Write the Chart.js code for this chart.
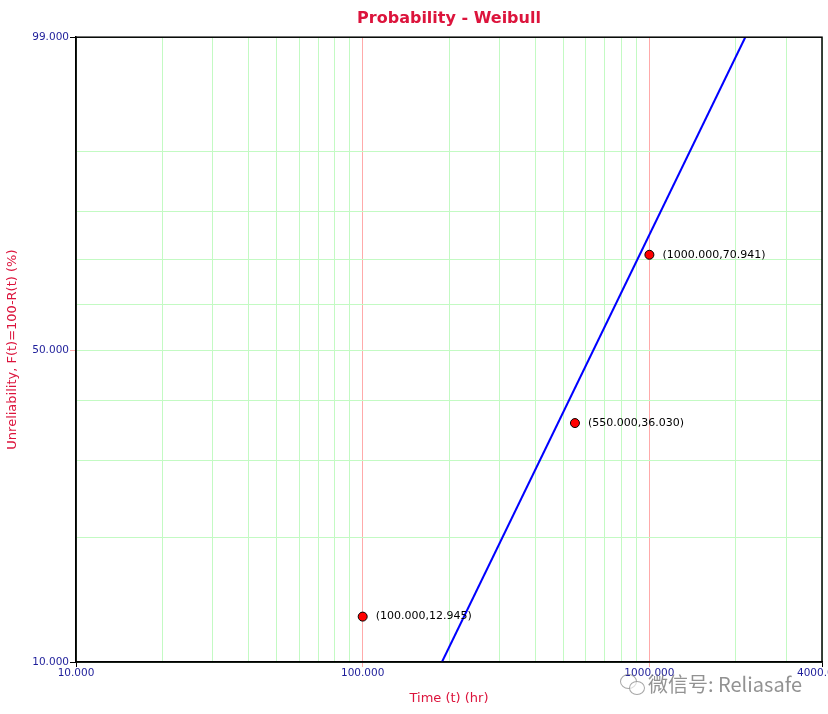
<!DOCTYPE html>
<html>
<head>
<meta charset="utf-8">
<script src="https://cdn.jsdelivr.net/npm/chart.js@4.4.1/dist/chart.umd.min.js"></script>
<style>
  html, body { margin: 0; padding: 0; background: #ffffff; }
  #wrap { position: relative; width: 828px; height: 714px; }
  canvas { display: block; }
  #wm { position: absolute; left: 620px; top: 669px; font-family: "Noto Sans CJK SC", sans-serif; font-size: 20px; color: rgba(110,110,110,0.75); white-space: nowrap; }
  #wm .ic { display: inline-block; position: relative; width: 26px; height: 22px; vertical-align: -4px; margin-right: 2px; }
  #wm .c1 { position: absolute; left: 0; top: 0; width: 15px; height: 13px; border: 1.5px solid rgba(130,130,130,0.7); border-radius: 50%; }
  #wm .c2 { position: absolute; left: 9px; top: 7px; width: 14px; height: 12px; border: 1.5px solid rgba(130,130,130,0.7); border-radius: 50%; background: rgba(255,255,255,0.6); }
</style>
</head>
<body>
<div id="wrap">
  <canvas id="c" width="828" height="714"></canvas>
  <div id="wm"><span class="ic"><span class="c1"></span><span class="c2"></span></span>微信号: Reliasafe</div>
</div>
<script>
// ---- data ----
const times = [100, 550, 1000];                 // hr
const unreliability = [12.945, 36.030, 70.941]; // %
const fitTimes = [189, 2160];                   // fitted line end points (hr)
const fitUnreliability = [10, 99];              // fitted line end points (%)
const xGridTicks = [10, 20, 30, 40, 50, 60, 70, 80, 90, 100, 200, 300, 400, 500, 600, 700, 800, 900, 1000, 2000, 3000, 4000];
const xLabeledTicks = [10, 100, 1000, 4000];
const xMajorGrid = [100, 1000];
const yGridTicks = [10, 20, 30, 40, 50, 60, 70, 80, 90, 99];
const yLabeledTicks = [10, 50, 99];

// ---- Weibull probability scale ----
const wt = F => Math.log(-Math.log(1 - F / 100));
class WeibullScale extends Chart.Scale {
  static id = 'weibull';
  static defaults = {};
  parse(raw) { return +raw; }
  determineDataLimits() {
    this.min = this.options.min;
    this.max = this.options.max;
  }
  buildTicks() { return yGridTicks.map(v => ({ value: v })); }
  getLabelForValue(v) { return v.toFixed(3); }
  configure() {
    super.configure();
    this._wStart = wt(this.min);
    this._wRange = wt(this.max) - wt(this.min);
  }
  getPixelForValue(v) {
    return this.getPixelForDecimal((wt(v) - this._wStart) / this._wRange);
  }
  getValueForPixel(p) {
    const t = this._wStart + this.getDecimalForPixel(p) * this._wRange;
    return 100 * (1 - Math.exp(-Math.exp(t)));
  }
}
Chart.register(WeibullScale);

const GREEN = 'rgba(195,250,195,1)';
const PINK = 'rgba(255,170,170,1)';
const TICKBLUE = '#1e1e9a';
const CRIMSON = '#dc143c';

const frame = {
  id: 'frame',
  afterDatasetsDraw(chart) {
    const { ctx, chartArea: a } = chart;
    ctx.save();
    ctx.strokeStyle = '#000';
    ctx.lineWidth = 1.5;
    ctx.strokeRect(a.left, a.top, a.right - a.left, a.bottom - a.top);
    ctx.restore();
  }
};

const pointLabels = {
  id: 'pointLabels',
  afterDatasetsDraw(chart) {
    const meta = chart.getDatasetMeta(1);
    const { ctx } = chart;
    ctx.save();
    ctx.font = '11px "DejaVu Sans"';
    ctx.fillStyle = '#000';
    ctx.textAlign = 'left';
    ctx.textBaseline = 'middle';
    meta.data.forEach((el, i) => {
      ctx.fillText('(' + times[i].toFixed(3) + ',' + unreliability[i].toFixed(3) + ')', el.x + 13, el.y);
    });
    ctx.restore();
  }
};

new Chart(document.getElementById('c'), {
  data: {
    datasets: [
      {
        type: 'line',
        data: fitTimes.map((t, i) => ({ x: t, y: fitUnreliability[i] })),
        borderColor: '#0000ff',
        borderWidth: 2,
        pointRadius: 0,
        fill: false,
        order: 2
      },
      {
        type: 'scatter',
        data: times.map((t, i) => ({ x: t, y: unreliability[i] })),
        backgroundColor: '#ff0000',
        borderColor: '#000000',
        borderWidth: 1,
        pointRadius: 4.5,
        order: 1
      }
    ]
  },
  options: {
    responsive: false,
    animation: false,
    devicePixelRatio: 1,
    layout: { padding: { left: 0, right: 6, top: 0, bottom: 0 } },
    plugins: {
      legend: { display: false },
      tooltip: { enabled: false },
      title: {
        display: true,
        fullSize: false,
        text: 'Probability - Weibull',
        color: CRIMSON,
        font: { family: '"DejaVu Sans"', size: 16, weight: 'bold' },
        padding: { top: 9, bottom: 9 }
      }
    },
    scales: {
      x: {
        type: 'logarithmic',
        position: 'bottom',
        min: 10,
        max: 4000,
        afterBuildTicks: s => { s.ticks = xGridTicks.map(v => ({ value: v })); },
        afterFit: s => { s.height = 52; s.paddingLeft = 0; s.paddingRight = 0; },
        border: { display: true, color: '#000', width: 1.5 },
        grid: {
          color: c => (c.tick && xMajorGrid.includes(c.tick.value)) ? PINK : GREEN,
          lineWidth: 1,
          drawTicks: true,
          tickLength: 5,
          tickColor: c => (c.tick && xLabeledTicks.includes(c.tick.value)) ? (xMajorGrid.includes(c.tick.value) ? PINK : '#000') : 'rgba(0,0,0,0)'
        },
        ticks: {
          autoSkip: false,
          maxRotation: 0,
          padding: 0,
          color: TICKBLUE,
          font: { family: '"DejaVu Sans"', size: 10.5 },
          callback: v => xLabeledTicks.includes(v) ? v.toFixed(3) : ''
        },
        title: {
          display: true,
          text: 'Time (t) (hr)',
          color: CRIMSON,
          font: { family: '"DejaVu Sans"', size: 13 },
          padding: { top: 0, bottom: 8 }
        }
      },
      y: {
        type: 'weibull',
        position: 'left',
        min: 10,
        max: 99,
        afterFit: s => { s.width = 76; s.paddingTop = 0; s.paddingBottom = 0; },
        border: { display: true, color: '#000', width: 1.5 },
        grid: {
          color: GREEN,
          lineWidth: 1,
          drawTicks: true,
          tickLength: 6,
          tickColor: c => (c.tick && yLabeledTicks.includes(c.tick.value)) ? (c.tick.value === 50 ? PINK : '#000') : 'rgba(0,0,0,0)'
        },
        ticks: {
          autoSkip: false,
          padding: 1,
          color: TICKBLUE,
          font: { family: '"DejaVu Sans"', size: 10.5 },
          callback: v => yLabeledTicks.includes(v) ? v.toFixed(3) : ''
        },
        title: {
          display: true,
          text: 'Unreliability, F(t)=100-R(t) (%)',
          color: CRIMSON,
          font: { family: '"DejaVu Sans"', size: 13 },
          padding: { top: 5, bottom: 0 }
        }
      }
    }
  },
  plugins: [frame, pointLabels]
});
</script>
</body>
</html>
